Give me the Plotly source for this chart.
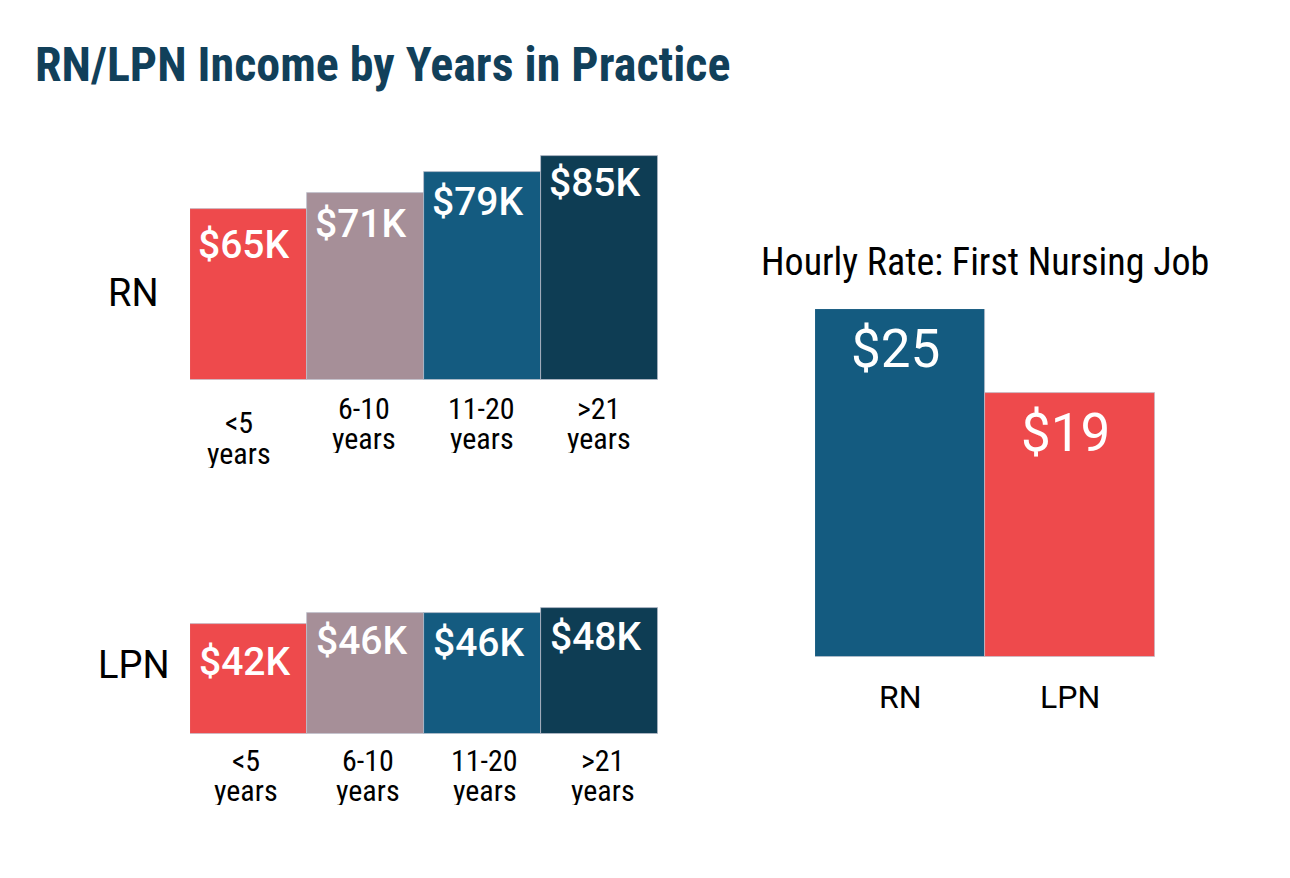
import plotly.graph_objects as go

# ---- data ----
year_ranges = ["<5", "6-10", "11-20", ">21"]
year_unit = "years"
rn_income_k = [65, 71, 79, 85]
lpn_income_k = [42, 46, 46, 48]
hourly_groups = ["RN", "LPN"]
hourly_rate = [25, 19]

bar_colors = ["#EE4A4C", "#A68F98", "#145B80", "#0E3D54"]
hourly_colors = ["#145B80", "#EE4A4C"]
title_color = "#11405A"
edge = "rgba(190,192,205,0.9)"

W, H = 1290, 878
def fx(p): return p / W
def fy(p): return 1 - p / H

fig = go.Figure()
cats = list(range(len(year_ranges)))
fig.add_trace(go.Bar(x=cats, y=rn_income_k, marker=dict(color=bar_colors, line=dict(width=0.8, color=edge)),
                     xaxis="x", yaxis="y", hoverinfo="skip"))
fig.add_trace(go.Bar(x=cats, y=lpn_income_k, marker=dict(color=bar_colors, line=dict(width=0.8, color=edge)),
                     xaxis="x2", yaxis="y2", hoverinfo="skip"))
fig.add_trace(go.Bar(x=hourly_groups, y=hourly_rate, marker=dict(color=hourly_colors, line=dict(width=0.8, color=edge)),
                     xaxis="x3", yaxis="y3", hoverinfo="skip"))

ax = dict(showgrid=False, zeroline=False, showticklabels=False, showline=False, fixedrange=True)
layout = dict(
    width=W, height=H, margin=dict(l=0, r=0, t=0, b=0),
    paper_bgcolor="white", plot_bgcolor="white", showlegend=False, bargap=0,
    font=dict(family="Roboto", color="black"),
    xaxis=dict(ax, domain=[fx(190), fx(658)], range=[-0.5, 3.5], anchor="y"),
    yaxis=dict(ax, domain=[fy(380), fy(117)], range=[0, 100], anchor="x"),
    xaxis2=dict(ax, domain=[fx(190), fx(658)], range=[-0.5, 3.5], anchor="y2"),
    yaxis2=dict(ax, domain=[fy(734), fy(471)], range=[0, 100], anchor="x2"),
    xaxis3=dict(ax, domain=[fx(815), fx(1155)], range=[-0.5, 1.5], anchor="y3"),
    yaxis3=dict(ax, domain=[fy(657), fy(309)], range=[0, 25], anchor="x3"),
)
fig.update_layout(**layout)

COND = "Roboto Condensed, Liberation Sans Narrow, Roboto"
ann = []
# title
ann.append(dict(text="<b>RN/LPN Income by Years in Practice</b>", xref="paper", yref="paper",
                x=fx(33), y=fy(65), xanchor="left", yanchor="middle", showarrow=False,
                font=dict(family=COND, size=48, color=title_color)))
ann.append(dict(text="Hourly Rate: First Nursing Job", xref="paper", yref="paper",
                x=fx(985), y=fy(262), xanchor="center", yanchor="middle", showarrow=False,
                font=dict(family=COND, size=38, color="black")))
ann.append(dict(text="RN", xref="paper", yref="paper", x=fx(133), y=fy(293), xanchor="center",
                yanchor="middle", showarrow=False, font=dict(size=38)))
ann.append(dict(text="LPN", xref="paper", yref="paper", x=fx(134), y=fy(665), xanchor="center",
                yanchor="middle", showarrow=False, font=dict(size=38)))

# value labels
rn_shift = [-36, -31, -30, -27]
lpn_shift = [-38, -28, -30, -29]
for i, v in enumerate(rn_income_k):
    ann.append(dict(text=f"${v}K", x=i, y=v, xref="x", yref="y", yanchor="middle", yshift=rn_shift[i],
                    xshift=-5, showarrow=False, font=dict(size=39, color="white", weight=500)))
for i, v in enumerate(lpn_income_k):
    ann.append(dict(text=f"${v}K", x=i, y=v, xref="x2", yref="y2", yanchor="middle", yshift=lpn_shift[i],
                    xshift=-4, showarrow=False, font=dict(size=39, color="white", weight=500)))
for g, v in zip(hourly_groups, hourly_rate):
    ann.append(dict(text=f"${v}", x=g, y=v, xref="x3", yref="y3", yanchor="middle", yshift=-40,
                    xshift=-5, showarrow=False, font=dict(size=53, color="white")))

# category labels
def esc(s): return s.replace("<", "&lt;").replace(">", "&gt;")
rn_label_y = [(422, 453), (408, 438), (408, 438), (408, 438)]
rn_xs = [-10, -2, -1, -1]
lpn_xs = [-3, 2, 2, 3]
lab = dict(showarrow=False, yanchor="middle", height=29, valign="middle", borderpad=0,
           font=dict(family=COND, size=30))
for i, r in enumerate(year_ranges):
    y1, y2 = rn_label_y[i]
    for txt, yy in ((esc(r), y1), (year_unit, y2)):
        ann.append(dict(lab, text=txt, x=i, xref="x", y=fy(yy), yref="paper", xshift=rn_xs[i]))
    for txt, yy in ((esc(r), 760), (year_unit, 790)):
        ann.append(dict(lab, text=txt, x=i, xref="x2", y=fy(yy), yref="paper", xshift=lpn_xs[i]))
for g in hourly_groups:
    ann.append(dict(text=g, x=g, xref="x3", y=fy(697), yref="paper", yanchor="middle",
                    showarrow=False, font=dict(size=32)))

fig.update_layout(annotations=ann)
fig.write_html("out.html")
